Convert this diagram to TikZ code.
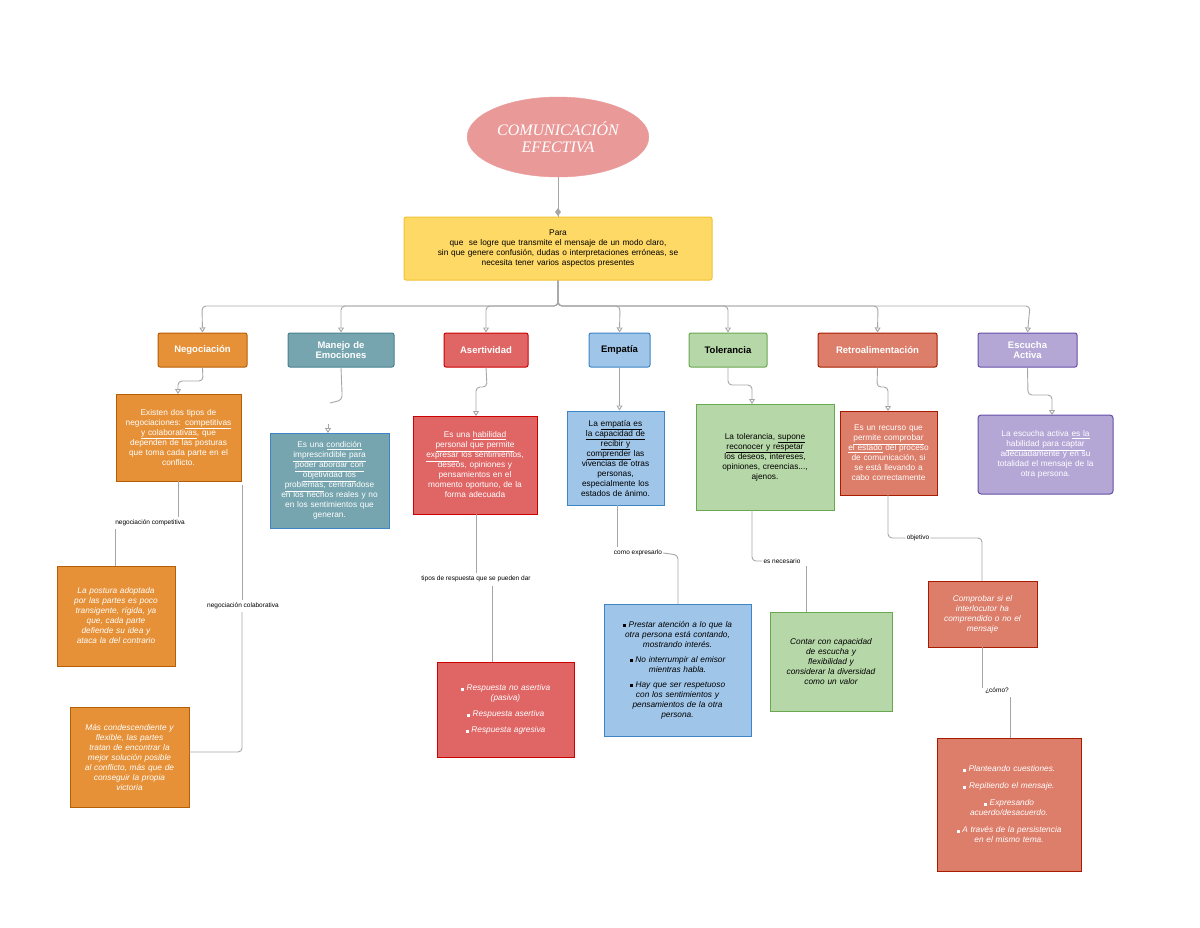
\documentclass[tikz,border=0pt]{standalone}
\usepackage{fontspec}
\setmainfont{Liberation Sans}
\newfontfamily\serifit{Liberation Serif}
\usetikzlibrary{shapes.geometric,arrows.meta}
\definecolor{cor}{HTML}{E69138}
\definecolor{corD}{HTML}{B45F06}
\definecolor{cte}{HTML}{76A5AF}
\definecolor{cteD}{HTML}{45818E}
\definecolor{cre}{HTML}{E06666}
\definecolor{creD}{HTML}{CC0000}
\definecolor{cbl}{HTML}{9FC5E8}
\definecolor{cblD}{HTML}{3D85C6}
\definecolor{cgr}{HTML}{B6D7A8}
\definecolor{cgrD}{HTML}{6AA84F}
\definecolor{csa}{HTML}{DD7E6B}
\definecolor{csaD}{HTML}{A61C00}
\definecolor{cpu}{HTML}{B4A7D6}
\definecolor{cpuD}{HTML}{674EA7}
\definecolor{cye}{HTML}{FFD966}
\definecolor{cyeD}{HTML}{F1C232}
\definecolor{cpk}{HTML}{EA9999}
\definecolor{ln}{HTML}{A6A6A6}
\newcommand{\bul}{\rule{3pt}{3pt}\ }
\tikzset{
 bx/.style={draw, line width=1pt, align=center, inner sep=2pt, font=\fontsize{8.3}{10}\selectfont},
 it/.style={font=\itshape\fontsize{8.3}{10}\selectfont},
 cat/.style={bx, rounded corners=2pt, font=\bfseries\fontsize{9.5}{10.5}\selectfont, text=white},
 conn/.style={draw=ln, line width=0.9pt, rounded corners=4pt},
 arr/.style={conn, -{Triangle[open,length=5pt,width=6pt]}},
 lbl/.style={font=\fontsize{6.5}{7.5}\selectfont, fill=white, inner sep=1pt}
}
\newcommand{\bxat}[7]{% name, x1,y1,x2,y2, style, text
 \node[#6, minimum width={#4-#2}, minimum height={#5-#3}, text width={#4-#2-6}] (#1) at ({(#2+#4)/2},{(#3+#5)/2}) {#7};}
\begin{document}
\begin{tikzpicture}[x=1pt,y=-1pt]
\useasboundingbox (0,0) rectangle (1200,927);
\node[ellipse, fill=cpk, draw=cpk, minimum width=172, minimum height=80, align=center, text=white, font=\serifit\itshape\fontsize{16}{17}\selectfont] (root) at (558,137) {COMUNICACIÓN\\EFECTIVA};
\bxat{para}{404}{217}{712}{280}{bx, fill=cye, draw=cyeD, rounded corners=2pt, text width=304}{Para\\que\ \ se logre que transmite el mensaje de un modo claro,\\sin que genere confusión, dudas o interpretaciones erróneas, se\\necesita tener varios aspectos presentes}
\draw[conn] (root.south) -- (para.north);
\fill[ln] (558,208) -- (561,212) -- (558,216) -- (555,212) -- cycle;

\bxat{neg}{158}{333}{247}{367}{cat, fill=cor, draw=corD}{Negociación}
\bxat{man}{288}{333}{394}{367}{cat, fill=cte, draw=cteD}{Manejo de\\Emociones}
\bxat{ase}{444}{333}{528}{367}{cat, fill=cre, draw=creD}{Asertividad}
\bxat{emp}{589}{333}{650}{367}{cat, fill=cbl, draw=cblD, text=black}{Empatía}
\bxat{tol}{689}{333}{767}{367}{cat, fill=cgr, draw=cgrD, text=black}{Tolerancia}
\bxat{ret}{818}{333}{937}{367}{cat, fill=csa, draw=csaD}{Retroalimentación}
\bxat{esc}{978}{333}{1077}{367}{cat, fill=cpu, draw=cpuD}{Escucha\\Activa}

\foreach \n/\x in {neg/202,man/341,ase/486,emp/620,tol/728,ret/878,esc/1030}{
 \draw[arr] (para.south) -- (558,306) -- (\x,306) -- (\n.north);
}

\bxat{negd}{116}{394}{241}{481}{bx, fill=cor, draw=corD, text=white}{Existen dos tipos de\\negociaciones: \underline{competitivas}\\\underline{y colaborativas}, que\\dependen de las posturas\\que toma cada parte en el\\conflicto.}
\bxat{mand}{270}{433}{389}{528}{bx, fill=cte, draw=cblD, text=white}{Es una \underline{condición}\\\underline{imprescindible para}\\\underline{poder abordar con}\\\underline{objetividad los}\\\underline{problemas}, centrándose\\en los hechos reales y no\\en los sentimientos que\\generan.}
\bxat{ased}{413}{416}{537}{514}{bx, fill=cre, draw=creD, text=white}{Es una \underline{habilidad}\\\underline{personal que permite}\\\underline{expresar} los sentimientos,\\deseos, opiniones y\\pensamientos en el\\momento oportuno, de la\\forma adecuada}
\bxat{empd}{567}{411}{664}{505}{bx, fill=cbl, draw=cblD}{La \underline{empatía es}\\\underline{la capacidad de}\\\underline{recibir y}\\\underline{comprender} las\\vivencias de otras\\personas,\\especialmente los\\estados de ánimo.}
\bxat{told}{696}{404}{834}{510}{bx, fill=cgr, draw=cgrD}{La tolerancia, \underline{supone}\\\underline{reconocer y respetar}\\los deseos, intereses,\\opiniones, creencias...,\\ajenos.}
\bxat{retd}{840}{411}{937}{495}{bx, fill=csa, draw=csaD, text=white}{Es un recurso que\\\underline{permite comprobar}\\\underline{el estado} del proceso\\de comunicación, si\\se está llevando a\\cabo correctamente}
\bxat{escd}{978}{415}{1113}{494}{bx, fill=cpu, draw=cpuD, text=white, rounded corners=3pt}{La escucha activa \underline{es la}\\\underline{habilidad para captar}\\adecuadamente y en su\\totalidad el mensaje de la\\otra persona.}

\draw[arr] (neg.south) -- (203,381) -- (178,381) -- (178,394);
\draw[conn] (man.south) -- (342,392) -- (342,400) -- (330,403);
\draw[-{Triangle[open,length=5pt,width=6pt]},draw=ln,line width=0.9pt] (328,424) -- (328,433);
\draw[arr] (ase.south) -- (487,387) -- (476,387) -- (476,416);
\draw[arr] (emp.south) -- (emp.south |- empd.north);
\draw[arr] (tol.south) -- (728,385) -- (752,385) -- (752,404);
\draw[arr] (ret.south) -- (877,387) -- (888,387) -- (888,411);
\draw[arr] (esc.south) -- (1028,395) -- (1052,395) -- (1052,415);

% second level
\bxat{neg1}{57}{566}{175}{666}{bx, it, fill=cor, draw=corD, text=white}{La postura adoptada\\por las partes es poco\\transigente, rígida, ya\\que, cada parte\\defiende su idea y\\ataca la del contrario}
\bxat{neg2}{70}{707}{189}{807}{bx, it, fill=cor, draw=corD, text=white}{Más condescendiente y\\flexible, las partes\\tratan de encontrar la\\mejor solución posible\\al conflicto, más que de\\conseguir la propia\\victoria}
\bxat{ase2}{437}{662}{574}{757}{bx, it, fill=cre, draw=creD, text=white}{\bul Respuesta no asertiva\\(pasiva)\\[6pt]\bul Respuesta asertiva\\[6pt]\bul Respuesta agresiva}
\bxat{emp2}{604}{604}{751}{736}{bx, it, fill=cbl, draw=cblD}{\bul Prestar atención a lo que la\\otra persona está contando,\\mostrando interés.\\[5pt]\bul No interrumpir al emisor\\mientras habla.\\[5pt]\bul Hay que ser respetuoso\\con los sentimientos y\\pensamientos de la otra\\persona.}
\bxat{tol2}{770}{612}{892}{711}{bx, it, fill=cgr, draw=cgrD}{Contar con capacidad\\de escucha y\\flexibilidad y\\considerar la diversidad\\como un valor}
\bxat{ret2}{928}{581}{1037}{647}{bx, it, fill=csa, draw=csaD, text=white}{Comprobar si el\\interlocutor ha\\comprendido o no el\\mensaje}
\bxat{ret3}{937}{738}{1081}{871}{bx, it, fill=csa, draw=csaD, text=white}{\bul Planteando cuestiones.\\[7pt]\bul Repitiendo el mensaje.\\[7pt]\bul Expresando\\acuerdo/desacuerdo.\\[7pt]\bul A través de la persistencia\\en el mismo tema.}

\node[lbl] (l1) at (150,523) {negociación competitiva};
\node[lbl] (l2) at (243,606) {negociación colaborativa};
\node[lbl] (l3) at (476,579) {tipos de respuesta que se pueden dar};
\node[lbl] (l4) at (638,553) {como expresarlo};
\node[lbl] (l5) at (782,561) {es necesario};
\node[lbl] (l6) at (918,538) {objetivo};
\node[lbl] (l7) at (997,691) {¿cómo?};

\draw[conn] (178,481) -- (178,517);
\draw[conn] (115,529) -- (115,566);
\draw[conn] (242,485) -- (242,600);
\draw[conn] (242,612) -- (242,752) -- (189,752);
\draw[conn] (476,514) -- (476,573);
\draw[conn] (492,586) -- (492,662);
\draw[conn] (617,505) -- (617,547);
\draw[conn] (l4.east) -- (678,555) -- (678,604);
\draw[conn] (752,510) -- (752,561) -- (l5.west);
\draw[conn] (806,566) -- (806,612);
\draw[conn] (888,495) -- (888,538) -- (l6.west);
\draw[conn] (l6.east) -- (982,538) -- (982,581);
\draw[conn] (982,647) -- (982,688);
\draw[conn] (1010,697) -- (1010,738);
\end{tikzpicture}
\end{document}
